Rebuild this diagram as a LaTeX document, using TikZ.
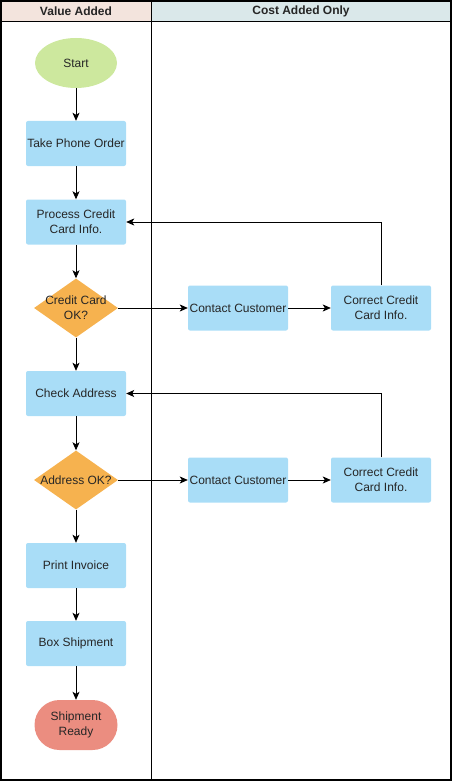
\documentclass[tikz,border=0pt]{standalone}
\usepackage{fontspec}
\setmainfont{Liberation Sans}
\usetikzlibrary{shapes.geometric, arrows.meta}

\definecolor{boxblue}{HTML}{A9DDF7}
\definecolor{decorange}{HTML}{F6B24F}
\definecolor{startgreen}{HTML}{CDE89E}
\definecolor{readyred}{HTML}{EB8D80}
\definecolor{headpink}{HTML}{F3E4DD}
\definecolor{headblue}{HTML}{DAE8EA}

\begin{document}
\begin{tikzpicture}[x = 1pt, y = -1pt,
		every node/.style = {font = \fontsize{12}{15}\selectfont, text = black!85},
		box/.style = {fill = boxblue, rounded corners = 2pt, minimum width = 100pt, minimum height = 45pt, align = center, inner sep = 1pt},
		decision/.style = {diamond, fill = decorange, minimum width = 84pt, minimum height = 59pt, inner sep = 0pt},
		flow/.style = {-{Stealth[length = 8pt, width = 7pt, inset = 2pt]}, thick, black}]
	\useasboundingbox (0,0) rectangle (452,781);
	
	% lanes
	\fill[headpink] (1,1) rectangle (151,21);
	\fill[headblue] (151,1) rectangle (451,21);
	\draw[thick] (1,21) -- (451,21);
	\draw[thick] (151,1) -- (151,779);
	\draw[line width = 2pt] (1,1) rectangle (451,779.5);
	\node[font = \fontsize{12}{13}\selectfont\bfseries] (laneva) at (76,11) {Value Added};
	\node[font = \fontsize{12}{13}\selectfont\bfseries] (laneca) at (301,11) {Cost Added Only};
	
	% value added column
	\node[ellipse, fill = startgreen, minimum width = 82pt, minimum height = 50pt] (start) at (76,63) {Start};
	\node[box] (phone) at (76,143.5) {Take Phone Order};
	\node[box] (process) at (76,222) {Process Credit\\Card Info.};
	\node[decision, label = {[align = center]center:Credit Card\\OK?}] (cardok) at (76,308) {};
	\node[box] (address) at (76,393.5) {Check Address};
	\node[decision, label = {center:Address OK?}] (addrok) at (76,480) {};
	\node[box] (invoice) at (76,565.5) {Print Invoice};
	\node[box] (shipbox) at (76,643.5) {Box Shipment};
	\node[fill = readyred, rounded corners = 25pt, minimum width = 83pt, minimum height = 50pt, align = center] (ready) at (76,725) {Shipment\\Ready};
	
	% cost added column
	\node[box] (contacta) at (238,308) {Contact Customer};
	\node[box] (correcta) at (381,308) {Correct Credit\\Card Info.};
	\node[box] (contactb) at (238,480) {Contact Customer};
	\node[box] (correctb) at (381,480) {Correct Credit\\Card Info.};
	
	% connectors
	\draw[flow] (start) -- (phone);
	\draw[flow] (phone) -- (process);
	\draw[flow] (process) -- (cardok);
	\draw[flow] (cardok) -- (address);
	\draw[flow] (address) -- (addrok);
	\draw[flow] (addrok) -- (invoice);
	\draw[flow] (invoice) -- (shipbox);
	\draw[flow] (shipbox) -- (ready);
	
	\draw[flow] (cardok) -- (contacta);
	\draw[flow] (contacta) -- (correcta);
	\draw[flow] (correcta) |- (process);
	\draw[flow] (addrok) -- (contactb);
	\draw[flow] (contactb) -- (correctb);
	\draw[flow] (correctb) |- (address);
\end{tikzpicture}
\end{document}
